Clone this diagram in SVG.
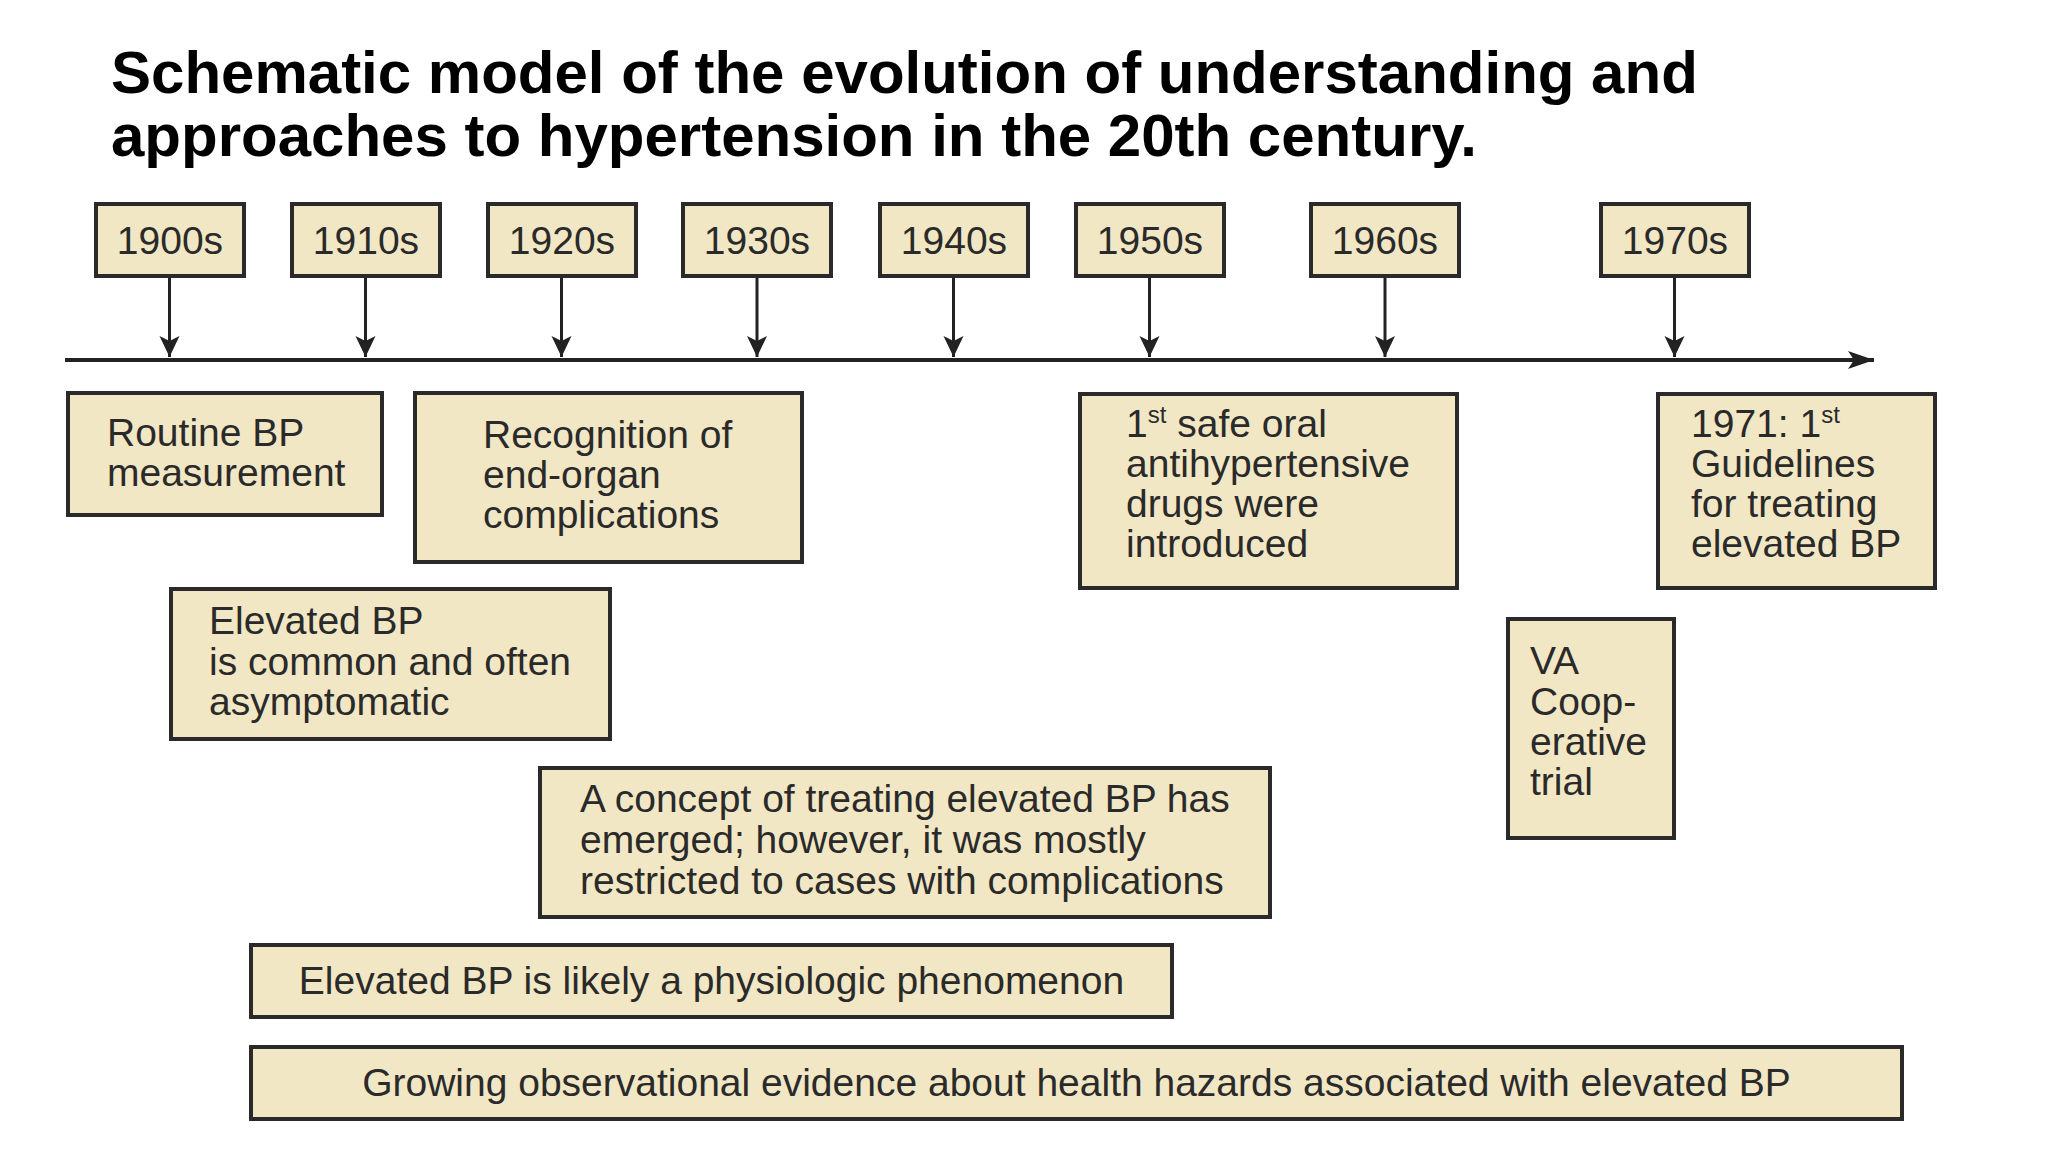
<svg xmlns="http://www.w3.org/2000/svg" width="2048" height="1152" viewBox="0 0 2048 1152">
<style>
.title{font-family:"Liberation Sans",Arial,sans-serif;font-weight:bold;font-size:60px;fill:#000}
.box{fill:#F1E7C4;stroke:#2a2a2a;stroke-width:4}
.dec{font-family:"Liberation Sans",Arial,sans-serif;font-size:39px;fill:#2a2a2a;text-anchor:middle}
.t{font-family:"Liberation Sans",Arial,sans-serif;font-size:39px;fill:#2a2a2a}
.tc{font-family:"Liberation Sans",Arial,sans-serif;font-size:39px;fill:#2a2a2a;text-anchor:middle}
.sup{font-size:24px}
.conn{stroke:#222;stroke-width:3;fill:none}
.axis{stroke:#222;stroke-width:4;fill:none}
</style>
<defs>
<marker id="ah" markerUnits="userSpaceOnUse" markerWidth="22" markerHeight="22" refX="21" refY="10" orient="auto">
<path d="M0,0 L21,10 L0,20 L5,10 Z" fill="#222"/>
</marker>
<marker id="ah2" markerUnits="userSpaceOnUse" markerWidth="28" markerHeight="20" refX="26" refY="9" orient="auto">
<path d="M0,0 L26,9 L0,18 L6,9 Z" fill="#222"/>
</marker>
</defs>
<rect width="2048" height="1152" fill="#fff"/>
<g id="title">
<text class="title" x="111" y="93">Schematic model of the evolution of understanding and</text>
<text class="title" x="111" y="156">approaches to hypertension in the 20th century.</text>
</g>
<g id="connectors">
<line class="axis" x1="65" y1="360" x2="1874" y2="360" marker-end="url(#ah2)"/>
<line class="conn" x1="169.5" y1="276" x2="169.5" y2="357" marker-end="url(#ah)"/>
<line class="conn" x1="365.5" y1="276" x2="365.5" y2="357" marker-end="url(#ah)"/>
<line class="conn" x1="561.5" y1="276" x2="561.5" y2="357" marker-end="url(#ah)"/>
<line class="conn" x1="757" y1="276" x2="757" y2="357" marker-end="url(#ah)"/>
<line class="conn" x1="953.5" y1="276" x2="953.5" y2="357" marker-end="url(#ah)"/>
<line class="conn" x1="1149.5" y1="276" x2="1149.5" y2="357" marker-end="url(#ah)"/>
<line class="conn" x1="1385" y1="276" x2="1385" y2="357" marker-end="url(#ah)"/>
<line class="conn" x1="1674.5" y1="276" x2="1674.5" y2="357" marker-end="url(#ah)"/>
</g>
<g id="d1900"><rect class="box" x="96" y="204" width="148" height="72"/><text class="dec" x="170" y="254">1900s</text></g>
<g id="d1910"><rect class="box" x="292" y="204" width="148" height="72"/><text class="dec" x="366" y="254">1910s</text></g>
<g id="d1920"><rect class="box" x="488" y="204" width="148" height="72"/><text class="dec" x="562" y="254">1920s</text></g>
<g id="d1930"><rect class="box" x="683" y="204" width="148" height="72"/><text class="dec" x="757" y="254">1930s</text></g>
<g id="d1940"><rect class="box" x="880" y="204" width="148" height="72"/><text class="dec" x="954" y="254">1940s</text></g>
<g id="d1950"><rect class="box" x="1076" y="204" width="148" height="72"/><text class="dec" x="1150" y="254">1950s</text></g>
<g id="d1960"><rect class="box" x="1311" y="204" width="148" height="72"/><text class="dec" x="1385" y="254">1960s</text></g>
<g id="d1970"><rect class="box" x="1601" y="204" width="148" height="72"/><text class="dec" x="1675" y="254">1970s</text></g>
<g id="routine">
<rect class="box" x="68" y="393" width="314" height="122"/>
<text class="t" x="107" y="446">Routine BP</text>
<text class="t" x="107" y="486">measurement</text>
</g>
<g id="recognition">
<rect class="box" x="415" y="393" width="387" height="169"/>
<text class="t" x="483" y="448">Recognition of</text>
<text class="t" x="483" y="488">end-organ</text>
<text class="t" x="483" y="528">complications</text>
</g>
<g id="drugs">
<rect class="box" x="1080" y="394" width="377" height="194"/>
<text class="t" x="1126" y="437">1<tspan class="sup" dy="-14">st</tspan><tspan dy="14"> safe oral</tspan></text>
<text class="t" x="1126" y="477">antihypertensive</text>
<text class="t" x="1126" y="517">drugs were</text>
<text class="t" x="1126" y="557">introduced</text>
</g>
<g id="guidelines">
<rect class="box" x="1658" y="394" width="277" height="194"/>
<text class="t" x="1691" y="437">1971: 1<tspan class="sup" dy="-14">st</tspan></text>
<text class="t" x="1691" y="477">Guidelines</text>
<text class="t" x="1691" y="517">for treating</text>
<text class="t" x="1691" y="557">elevated BP</text>
</g>
<g id="common">
<rect class="box" x="171" y="589" width="439" height="150"/>
<text class="t" x="209" y="634">Elevated BP</text>
<text class="t" x="209" y="675">is common and often</text>
<text class="t" x="209" y="715">asymptomatic</text>
</g>
<g id="va">
<rect class="box" x="1508" y="619" width="166" height="219"/>
<text class="t" x="1530" y="674">VA</text>
<text class="t" x="1530" y="715">Coop-</text>
<text class="t" x="1530" y="755">erative</text>
<text class="t" x="1530" y="795">trial</text>
</g>
<g id="concept">
<rect class="box" x="540" y="768" width="730" height="149"/>
<text class="t" x="580" y="812">A concept of treating elevated BP has</text>
<text class="t" x="580" y="853">emerged; however, it was mostly</text>
<text class="t" x="580" y="894">restricted to cases with complications</text>
</g>
<g id="physiologic">
<rect class="box" x="251" y="945" width="921" height="72"/>
<text class="tc" x="711.5" y="994">Elevated BP is likely a physiologic phenomenon</text>
</g>
<g id="growing">
<rect class="box" x="251" y="1047" width="1651" height="72"/>
<text class="tc" x="1076.5" y="1096">Growing observational evidence about health hazards associated with elevated BP</text>
</g>
</svg>
